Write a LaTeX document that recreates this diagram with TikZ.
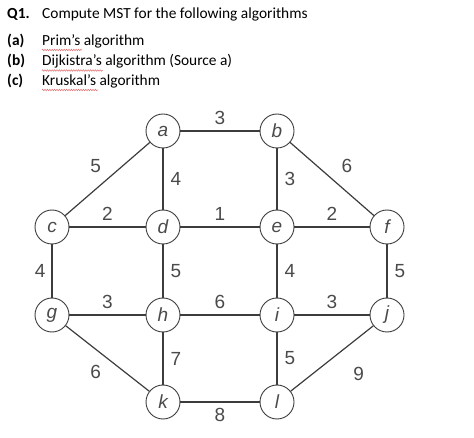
\documentclass[tikz,border=0pt]{standalone}
\usepackage{fontspec}
\setmainfont{Carlito}
\newfontfamily\graphfont{Liberation Sans}
\usetikzlibrary{decorations.pathmorphing}
\definecolor{inkA}{HTML}{3C3C3C}
\definecolor{inkB}{HTML}{4A4A4A}
\definecolor{wavyRed}{HTML}{E07070}

\begin{document}
\begin{tikzpicture}[x=1pt, y=-1pt,
    vtx/.style={circle, draw=inkA, line width=0.9pt, minimum size=34pt, inner sep=0pt,
        font=\graphfont\fontsize{19}{19}\selectfont\itshape, text=inkB},
    edge/.style={draw=inkA, line width=1.2pt},
    wt/.style={font=\graphfont\fontsize{19}{19}\selectfont, text=inkB, inner sep=6pt},
    hdr/.style={anchor=base west, inner sep=0pt, font=\fontsize{15.4}{17}\selectfont},
    spell/.style={draw=wavyRed, line width=0.5pt, decorate,
        decoration={zigzag, amplitude=0.8pt, segment length=2.4pt}},
]
\useasboundingbox (0,0) rectangle (474,438);

% question
\node[hdr] (qnum) at (7,18.5) {\textbf{Q1.}};
\node[hdr] (qtext) at (42,18.5) {Compute MST for the following algorithms};
\node[hdr] (pa) at (7,46) {\textbf{(a)}};
\node[hdr] (ta) at (42,46) {Prim’s algorithm};
\node[hdr] (pb) at (7,66) {\textbf{(b)}};
\node[hdr] (tb) at (42,66) {Dijkistra’s algorithm (Source a)};
\node[hdr] (pc) at (7,85.5) {\textbf{(c)}};
\node[hdr] (tc) at (42,85.5) {Kruskal’s algorithm};
\draw[spell] (42,50) -- (82,50);
\draw[spell] (42,70.5) -- (103,70.5);
\draw[spell] (42,90) -- (98,90);

% vertices
\node[vtx] (a) at (163,131) {a};
\node[vtx] (b) at (277,131) {b};
\node[vtx] (c) at (52,227) {c};
\node[vtx] (d) at (163,227) {d};
\node[vtx] (e) at (277,227) {e};
\node[vtx] (f) at (387,227) {f};
\node[vtx] (g) at (52,315) {g};
\node[vtx] (h) at (163,315) {h};
\node[vtx] (i) at (277,315) {i};
\node[vtx] (j) at (387,315) {j};
\node[vtx] (k) at (163,402) {k};
\node[vtx] (l) at (277,402) {l};

% edges
\draw[edge] (a) -- node[wt, above] {3} (b);
\draw[edge] (c) -- node[wt, above left] {5} (a);
\draw[edge] (a) -- node[wt, right=1pt] {4} (d);
\draw[edge] (b) -- node[wt, right=1pt] {3} (e);
\draw[edge] (b) -- node[wt, above right, xshift=3pt] {6} (f);
\draw[edge] (c) -- node[wt, above] {2} (d);
\draw[edge] (d) -- node[wt, above] {1} (e);
\draw[edge] (e) -- node[wt, above] {2} (f);
\draw[edge] (c) -- node[wt, left] {4} (g);
\draw[edge] (d) -- node[wt, right=1pt] {5} (h);
\draw[edge] (e) -- node[wt, right=1pt] {4} (i);
\draw[edge] (f) -- node[wt, right=1pt] {5} (j);
\draw[edge] (g) -- node[wt, above] {3} (h);
\draw[edge] (h) -- node[wt, above] {6} (i);
\draw[edge] (i) -- node[wt, above] {3} (j);
\draw[edge] (g) -- node[wt, below left] {6} (k);
\draw[edge] (h) -- node[wt, right=1pt] {7} (k);
\draw[edge] (i) -- node[wt, right=1pt] {5} (l);
\draw[edge] (j) -- node[wt, below right, pos=.37, xshift=4pt, yshift=-11pt] {9} (l);
\draw[edge] (k) -- node[wt, below] {8} (l);
\end{tikzpicture}
\end{document}
